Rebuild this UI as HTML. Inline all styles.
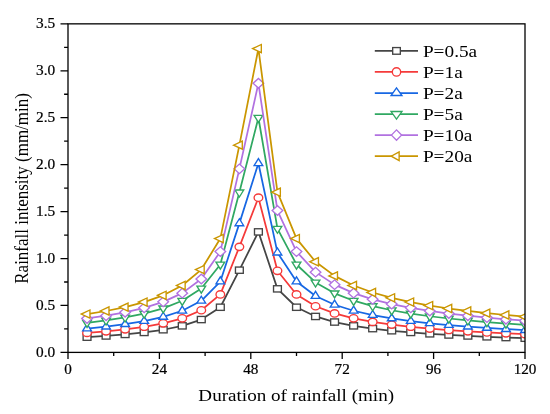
<!DOCTYPE html>
<html><head><meta charset="utf-8"><title>Rainfall intensity</title>
<style>
html,body{margin:0;padding:0;background:#fff;}
body{width:550px;height:414px;overflow:hidden;}
svg{display:block;font-family:"Liberation Serif","Times New Roman",serif;}
</style></head><body>
<svg width="550" height="414" viewBox="0 0 550 414">
<rect width="550" height="414" fill="#fff"/>
<defs><clipPath id="plot"><rect x="68.00" y="23.85" width="457.00" height="328.55"/></clipPath></defs>

<g clip-path="url(#plot)">
<polyline points="87.04,337.21 106.08,335.98 125.12,334.44 144.17,332.45 163.21,329.76 182.25,325.85 201.29,319.55 220.33,307.25 239.38,270.19 258.42,231.88 277.46,288.85 296.50,307.25 315.54,316.45 334.58,322.05 353.62,325.85 372.67,328.63 391.71,330.76 410.75,332.45 429.79,333.84 448.83,334.99 467.88,335.98 486.92,336.82 505.96,337.57 525.00,338.22" fill="none" stroke="#454545" stroke-width="1.75" stroke-linejoin="round"/>
<rect x="83.12" y="334.08" width="7.85" height="6.25" fill="#fff" stroke="#454545" stroke-width="1.35"/>
<rect x="102.16" y="332.85" width="7.85" height="6.25" fill="#fff" stroke="#454545" stroke-width="1.35"/>
<rect x="121.20" y="331.31" width="7.85" height="6.25" fill="#fff" stroke="#454545" stroke-width="1.35"/>
<rect x="140.24" y="329.33" width="7.85" height="6.25" fill="#fff" stroke="#454545" stroke-width="1.35"/>
<rect x="159.28" y="326.63" width="7.85" height="6.25" fill="#fff" stroke="#454545" stroke-width="1.35"/>
<rect x="178.32" y="322.73" width="7.85" height="6.25" fill="#fff" stroke="#454545" stroke-width="1.35"/>
<rect x="197.37" y="316.43" width="7.85" height="6.25" fill="#fff" stroke="#454545" stroke-width="1.35"/>
<rect x="216.41" y="304.12" width="7.85" height="6.25" fill="#fff" stroke="#454545" stroke-width="1.35"/>
<rect x="235.45" y="267.06" width="7.85" height="6.25" fill="#fff" stroke="#454545" stroke-width="1.35"/>
<rect x="254.49" y="228.75" width="7.85" height="6.25" fill="#fff" stroke="#454545" stroke-width="1.35"/>
<rect x="273.53" y="285.73" width="7.85" height="6.25" fill="#fff" stroke="#454545" stroke-width="1.35"/>
<rect x="292.57" y="304.12" width="7.85" height="6.25" fill="#fff" stroke="#454545" stroke-width="1.35"/>
<rect x="311.62" y="313.33" width="7.85" height="6.25" fill="#fff" stroke="#454545" stroke-width="1.35"/>
<rect x="330.66" y="318.92" width="7.85" height="6.25" fill="#fff" stroke="#454545" stroke-width="1.35"/>
<rect x="349.70" y="322.73" width="7.85" height="6.25" fill="#fff" stroke="#454545" stroke-width="1.35"/>
<rect x="368.74" y="325.50" width="7.85" height="6.25" fill="#fff" stroke="#454545" stroke-width="1.35"/>
<rect x="387.78" y="327.63" width="7.85" height="6.25" fill="#fff" stroke="#454545" stroke-width="1.35"/>
<rect x="406.82" y="329.33" width="7.85" height="6.25" fill="#fff" stroke="#454545" stroke-width="1.35"/>
<rect x="425.87" y="330.71" width="7.85" height="6.25" fill="#fff" stroke="#454545" stroke-width="1.35"/>
<rect x="444.91" y="331.87" width="7.85" height="6.25" fill="#fff" stroke="#454545" stroke-width="1.35"/>
<rect x="463.95" y="332.85" width="7.85" height="6.25" fill="#fff" stroke="#454545" stroke-width="1.35"/>
<rect x="482.99" y="333.70" width="7.85" height="6.25" fill="#fff" stroke="#454545" stroke-width="1.35"/>
<rect x="502.03" y="334.44" width="7.85" height="6.25" fill="#fff" stroke="#454545" stroke-width="1.35"/>
<rect x="521.08" y="335.10" width="7.85" height="6.25" fill="#fff" stroke="#454545" stroke-width="1.35"/>
<polyline points="87.04,332.89 106.08,331.31 125.12,329.34 144.17,326.79 163.21,323.33 182.25,318.32 201.29,310.23 220.33,294.43 239.38,246.85 258.42,197.66 277.46,270.82 296.50,294.43 315.54,306.25 334.58,313.43 353.62,318.32 372.67,321.88 391.71,324.62 410.75,326.79 429.79,328.57 448.83,330.05 467.88,331.31 486.92,332.40 505.96,333.35 525.00,334.20" fill="none" stroke="#F53A3A" stroke-width="1.75" stroke-linejoin="round"/>
<ellipse cx="87.04" cy="332.89" rx="4.33" ry="3.65" fill="#fff" stroke="#F53A3A" stroke-width="1.35"/>
<ellipse cx="106.08" cy="331.31" rx="4.33" ry="3.65" fill="#fff" stroke="#F53A3A" stroke-width="1.35"/>
<ellipse cx="125.12" cy="329.34" rx="4.33" ry="3.65" fill="#fff" stroke="#F53A3A" stroke-width="1.35"/>
<ellipse cx="144.17" cy="326.79" rx="4.33" ry="3.65" fill="#fff" stroke="#F53A3A" stroke-width="1.35"/>
<ellipse cx="163.21" cy="323.33" rx="4.33" ry="3.65" fill="#fff" stroke="#F53A3A" stroke-width="1.35"/>
<ellipse cx="182.25" cy="318.32" rx="4.33" ry="3.65" fill="#fff" stroke="#F53A3A" stroke-width="1.35"/>
<ellipse cx="201.29" cy="310.23" rx="4.33" ry="3.65" fill="#fff" stroke="#F53A3A" stroke-width="1.35"/>
<ellipse cx="220.33" cy="294.43" rx="4.33" ry="3.65" fill="#fff" stroke="#F53A3A" stroke-width="1.35"/>
<ellipse cx="239.38" cy="246.85" rx="4.33" ry="3.65" fill="#fff" stroke="#F53A3A" stroke-width="1.35"/>
<ellipse cx="258.42" cy="197.66" rx="4.33" ry="3.65" fill="#fff" stroke="#F53A3A" stroke-width="1.35"/>
<ellipse cx="277.46" cy="270.82" rx="4.33" ry="3.65" fill="#fff" stroke="#F53A3A" stroke-width="1.35"/>
<ellipse cx="296.50" cy="294.43" rx="4.33" ry="3.65" fill="#fff" stroke="#F53A3A" stroke-width="1.35"/>
<ellipse cx="315.54" cy="306.25" rx="4.33" ry="3.65" fill="#fff" stroke="#F53A3A" stroke-width="1.35"/>
<ellipse cx="334.58" cy="313.43" rx="4.33" ry="3.65" fill="#fff" stroke="#F53A3A" stroke-width="1.35"/>
<ellipse cx="353.62" cy="318.32" rx="4.33" ry="3.65" fill="#fff" stroke="#F53A3A" stroke-width="1.35"/>
<ellipse cx="372.67" cy="321.88" rx="4.33" ry="3.65" fill="#fff" stroke="#F53A3A" stroke-width="1.35"/>
<ellipse cx="391.71" cy="324.62" rx="4.33" ry="3.65" fill="#fff" stroke="#F53A3A" stroke-width="1.35"/>
<ellipse cx="410.75" cy="326.79" rx="4.33" ry="3.65" fill="#fff" stroke="#F53A3A" stroke-width="1.35"/>
<ellipse cx="429.79" cy="328.57" rx="4.33" ry="3.65" fill="#fff" stroke="#F53A3A" stroke-width="1.35"/>
<ellipse cx="448.83" cy="330.05" rx="4.33" ry="3.65" fill="#fff" stroke="#F53A3A" stroke-width="1.35"/>
<ellipse cx="467.88" cy="331.31" rx="4.33" ry="3.65" fill="#fff" stroke="#F53A3A" stroke-width="1.35"/>
<ellipse cx="486.92" cy="332.40" rx="4.33" ry="3.65" fill="#fff" stroke="#F53A3A" stroke-width="1.35"/>
<ellipse cx="505.96" cy="333.35" rx="4.33" ry="3.65" fill="#fff" stroke="#F53A3A" stroke-width="1.35"/>
<ellipse cx="525.00" cy="334.20" rx="4.33" ry="3.65" fill="#fff" stroke="#F53A3A" stroke-width="1.35"/>
<polyline points="87.04,328.55 106.08,326.62 125.12,324.21 144.17,321.09 163.21,316.86 182.25,310.74 201.29,300.84 220.33,281.53 239.38,223.37 258.42,163.23 277.46,252.66 296.50,281.53 315.54,295.98 334.58,304.77 353.62,310.74 372.67,315.09 391.71,318.43 410.75,321.09 429.79,323.26 448.83,325.08 467.88,326.62 486.92,327.95 505.96,329.12 525.00,330.14" fill="none" stroke="#1767E3" stroke-width="1.75" stroke-linejoin="round"/>
<polygon points="82.69,330.89 91.39,330.89 87.04,323.89" fill="#fff" stroke="#1767E3" stroke-width="1.35" stroke-linejoin="miter"/>
<polygon points="101.73,328.95 110.43,328.95 106.08,321.95" fill="#fff" stroke="#1767E3" stroke-width="1.35" stroke-linejoin="miter"/>
<polygon points="120.78,326.54 129.47,326.54 125.12,319.54" fill="#fff" stroke="#1767E3" stroke-width="1.35" stroke-linejoin="miter"/>
<polygon points="139.82,323.42 148.52,323.42 144.17,316.42" fill="#fff" stroke="#1767E3" stroke-width="1.35" stroke-linejoin="miter"/>
<polygon points="158.86,319.20 167.56,319.20 163.21,312.20" fill="#fff" stroke="#1767E3" stroke-width="1.35" stroke-linejoin="miter"/>
<polygon points="177.90,313.07 186.60,313.07 182.25,306.07" fill="#fff" stroke="#1767E3" stroke-width="1.35" stroke-linejoin="miter"/>
<polygon points="196.94,303.17 205.64,303.17 201.29,296.17" fill="#fff" stroke="#1767E3" stroke-width="1.35" stroke-linejoin="miter"/>
<polygon points="215.98,283.87 224.68,283.87 220.33,276.87" fill="#fff" stroke="#1767E3" stroke-width="1.35" stroke-linejoin="miter"/>
<polygon points="235.03,225.70 243.72,225.70 239.38,218.70" fill="#fff" stroke="#1767E3" stroke-width="1.35" stroke-linejoin="miter"/>
<polygon points="254.07,165.57 262.77,165.57 258.42,158.57" fill="#fff" stroke="#1767E3" stroke-width="1.35" stroke-linejoin="miter"/>
<polygon points="273.11,255.00 281.81,255.00 277.46,248.00" fill="#fff" stroke="#1767E3" stroke-width="1.35" stroke-linejoin="miter"/>
<polygon points="292.15,283.87 300.85,283.87 296.50,276.87" fill="#fff" stroke="#1767E3" stroke-width="1.35" stroke-linejoin="miter"/>
<polygon points="311.19,298.31 319.89,298.31 315.54,291.31" fill="#fff" stroke="#1767E3" stroke-width="1.35" stroke-linejoin="miter"/>
<polygon points="330.23,307.10 338.93,307.10 334.58,300.10" fill="#fff" stroke="#1767E3" stroke-width="1.35" stroke-linejoin="miter"/>
<polygon points="349.27,313.07 357.98,313.07 353.62,306.07" fill="#fff" stroke="#1767E3" stroke-width="1.35" stroke-linejoin="miter"/>
<polygon points="368.32,317.43 377.02,317.43 372.67,310.43" fill="#fff" stroke="#1767E3" stroke-width="1.35" stroke-linejoin="miter"/>
<polygon points="387.36,320.77 396.06,320.77 391.71,313.77" fill="#fff" stroke="#1767E3" stroke-width="1.35" stroke-linejoin="miter"/>
<polygon points="406.40,323.42 415.10,323.42 410.75,316.42" fill="#fff" stroke="#1767E3" stroke-width="1.35" stroke-linejoin="miter"/>
<polygon points="425.44,325.60 434.14,325.60 429.79,318.60" fill="#fff" stroke="#1767E3" stroke-width="1.35" stroke-linejoin="miter"/>
<polygon points="444.48,327.41 453.18,327.41 448.83,320.41" fill="#fff" stroke="#1767E3" stroke-width="1.35" stroke-linejoin="miter"/>
<polygon points="463.52,328.95 472.23,328.95 467.88,321.95" fill="#fff" stroke="#1767E3" stroke-width="1.35" stroke-linejoin="miter"/>
<polygon points="482.57,330.29 491.27,330.29 486.92,323.29" fill="#fff" stroke="#1767E3" stroke-width="1.35" stroke-linejoin="miter"/>
<polygon points="501.61,331.45 510.31,331.45 505.96,324.45" fill="#fff" stroke="#1767E3" stroke-width="1.35" stroke-linejoin="miter"/>
<polygon points="520.65,332.48 529.35,332.48 525.00,325.48" fill="#fff" stroke="#1767E3" stroke-width="1.35" stroke-linejoin="miter"/>
<polyline points="87.04,322.82 106.08,320.42 125.12,317.43 144.17,313.56 163.21,308.32 182.25,300.71 201.29,288.44 220.33,264.49 239.38,192.32 258.42,117.73 277.46,228.67 296.50,264.49 315.54,282.41 334.58,293.31 353.62,300.71 372.67,306.12 391.71,310.26 410.75,313.56 429.79,316.25 448.83,318.50 467.88,320.42 486.92,322.07 505.96,323.52 525.00,324.79" fill="none" stroke="#30A862" stroke-width="1.75" stroke-linejoin="round"/>
<polygon points="82.69,320.48 91.39,320.48 87.04,327.48" fill="#fff" stroke="#30A862" stroke-width="1.35" stroke-linejoin="miter"/>
<polygon points="101.73,318.09 110.43,318.09 106.08,325.09" fill="#fff" stroke="#30A862" stroke-width="1.35" stroke-linejoin="miter"/>
<polygon points="120.78,315.09 129.47,315.09 125.12,322.09" fill="#fff" stroke="#30A862" stroke-width="1.35" stroke-linejoin="miter"/>
<polygon points="139.82,311.22 148.52,311.22 144.17,318.22" fill="#fff" stroke="#30A862" stroke-width="1.35" stroke-linejoin="miter"/>
<polygon points="158.86,305.98 167.56,305.98 163.21,312.98" fill="#fff" stroke="#30A862" stroke-width="1.35" stroke-linejoin="miter"/>
<polygon points="177.90,298.38 186.60,298.38 182.25,305.38" fill="#fff" stroke="#30A862" stroke-width="1.35" stroke-linejoin="miter"/>
<polygon points="196.94,286.10 205.64,286.10 201.29,293.10" fill="#fff" stroke="#30A862" stroke-width="1.35" stroke-linejoin="miter"/>
<polygon points="215.98,262.15 224.68,262.15 220.33,269.15" fill="#fff" stroke="#30A862" stroke-width="1.35" stroke-linejoin="miter"/>
<polygon points="235.03,189.99 243.72,189.99 239.38,196.99" fill="#fff" stroke="#30A862" stroke-width="1.35" stroke-linejoin="miter"/>
<polygon points="254.07,115.39 262.77,115.39 258.42,122.39" fill="#fff" stroke="#30A862" stroke-width="1.35" stroke-linejoin="miter"/>
<polygon points="273.11,226.34 281.81,226.34 277.46,233.34" fill="#fff" stroke="#30A862" stroke-width="1.35" stroke-linejoin="miter"/>
<polygon points="292.15,262.15 300.85,262.15 296.50,269.15" fill="#fff" stroke="#30A862" stroke-width="1.35" stroke-linejoin="miter"/>
<polygon points="311.19,280.07 319.89,280.07 315.54,287.07" fill="#fff" stroke="#30A862" stroke-width="1.35" stroke-linejoin="miter"/>
<polygon points="330.23,290.97 338.93,290.97 334.58,297.97" fill="#fff" stroke="#30A862" stroke-width="1.35" stroke-linejoin="miter"/>
<polygon points="349.27,298.38 357.98,298.38 353.62,305.38" fill="#fff" stroke="#30A862" stroke-width="1.35" stroke-linejoin="miter"/>
<polygon points="368.32,303.78 377.02,303.78 372.67,310.78" fill="#fff" stroke="#30A862" stroke-width="1.35" stroke-linejoin="miter"/>
<polygon points="387.36,307.93 396.06,307.93 391.71,314.93" fill="#fff" stroke="#30A862" stroke-width="1.35" stroke-linejoin="miter"/>
<polygon points="406.40,311.22 415.10,311.22 410.75,318.22" fill="#fff" stroke="#30A862" stroke-width="1.35" stroke-linejoin="miter"/>
<polygon points="425.44,313.92 434.14,313.92 429.79,320.92" fill="#fff" stroke="#30A862" stroke-width="1.35" stroke-linejoin="miter"/>
<polygon points="444.48,316.17 453.18,316.17 448.83,323.17" fill="#fff" stroke="#30A862" stroke-width="1.35" stroke-linejoin="miter"/>
<polygon points="463.52,318.09 472.23,318.09 467.88,325.09" fill="#fff" stroke="#30A862" stroke-width="1.35" stroke-linejoin="miter"/>
<polygon points="482.57,319.74 491.27,319.74 486.92,326.74" fill="#fff" stroke="#30A862" stroke-width="1.35" stroke-linejoin="miter"/>
<polygon points="501.61,321.18 510.31,321.18 505.96,328.18" fill="#fff" stroke="#30A862" stroke-width="1.35" stroke-linejoin="miter"/>
<polygon points="520.65,322.46 529.35,322.46 525.00,329.46" fill="#fff" stroke="#30A862" stroke-width="1.35" stroke-linejoin="miter"/>
<polyline points="87.04,318.48 106.08,315.73 125.12,312.30 144.17,307.86 163.21,301.85 182.25,293.13 201.29,279.06 220.33,251.59 239.38,168.85 258.42,83.31 277.46,210.53 296.50,251.59 315.54,272.14 334.58,284.64 353.62,293.13 372.67,299.33 391.71,304.08 410.75,307.86 429.79,310.95 448.83,313.53 467.88,315.73 486.92,317.62 505.96,319.28 525.00,320.74" fill="none" stroke="#B171E0" stroke-width="1.75" stroke-linejoin="round"/>
<polygon points="81.74,318.48 87.04,313.68 92.34,318.48 87.04,323.28" fill="#fff" stroke="#B171E0" stroke-width="1.35" stroke-linejoin="miter"/>
<polygon points="100.78,315.73 106.08,310.93 111.38,315.73 106.08,320.53" fill="#fff" stroke="#B171E0" stroke-width="1.35" stroke-linejoin="miter"/>
<polygon points="119.83,312.30 125.12,307.50 130.43,312.30 125.12,317.10" fill="#fff" stroke="#B171E0" stroke-width="1.35" stroke-linejoin="miter"/>
<polygon points="138.87,307.86 144.17,303.06 149.47,307.86 144.17,312.66" fill="#fff" stroke="#B171E0" stroke-width="1.35" stroke-linejoin="miter"/>
<polygon points="157.91,301.85 163.21,297.05 168.51,301.85 163.21,306.65" fill="#fff" stroke="#B171E0" stroke-width="1.35" stroke-linejoin="miter"/>
<polygon points="176.95,293.13 182.25,288.33 187.55,293.13 182.25,297.93" fill="#fff" stroke="#B171E0" stroke-width="1.35" stroke-linejoin="miter"/>
<polygon points="195.99,279.06 201.29,274.26 206.59,279.06 201.29,283.86" fill="#fff" stroke="#B171E0" stroke-width="1.35" stroke-linejoin="miter"/>
<polygon points="215.03,251.59 220.33,246.79 225.63,251.59 220.33,256.39" fill="#fff" stroke="#B171E0" stroke-width="1.35" stroke-linejoin="miter"/>
<polygon points="234.07,168.85 239.38,164.05 244.68,168.85 239.38,173.65" fill="#fff" stroke="#B171E0" stroke-width="1.35" stroke-linejoin="miter"/>
<polygon points="253.12,83.31 258.42,78.51 263.72,83.31 258.42,88.11" fill="#fff" stroke="#B171E0" stroke-width="1.35" stroke-linejoin="miter"/>
<polygon points="272.16,210.53 277.46,205.73 282.76,210.53 277.46,215.33" fill="#fff" stroke="#B171E0" stroke-width="1.35" stroke-linejoin="miter"/>
<polygon points="291.20,251.59 296.50,246.79 301.80,251.59 296.50,256.39" fill="#fff" stroke="#B171E0" stroke-width="1.35" stroke-linejoin="miter"/>
<polygon points="310.24,272.14 315.54,267.34 320.84,272.14 315.54,276.94" fill="#fff" stroke="#B171E0" stroke-width="1.35" stroke-linejoin="miter"/>
<polygon points="329.28,284.64 334.58,279.84 339.88,284.64 334.58,289.44" fill="#fff" stroke="#B171E0" stroke-width="1.35" stroke-linejoin="miter"/>
<polygon points="348.32,293.13 353.62,288.33 358.93,293.13 353.62,297.93" fill="#fff" stroke="#B171E0" stroke-width="1.35" stroke-linejoin="miter"/>
<polygon points="367.37,299.33 372.67,294.53 377.97,299.33 372.67,304.13" fill="#fff" stroke="#B171E0" stroke-width="1.35" stroke-linejoin="miter"/>
<polygon points="386.41,304.08 391.71,299.28 397.01,304.08 391.71,308.88" fill="#fff" stroke="#B171E0" stroke-width="1.35" stroke-linejoin="miter"/>
<polygon points="405.45,307.86 410.75,303.06 416.05,307.86 410.75,312.66" fill="#fff" stroke="#B171E0" stroke-width="1.35" stroke-linejoin="miter"/>
<polygon points="424.49,310.95 429.79,306.15 435.09,310.95 429.79,315.75" fill="#fff" stroke="#B171E0" stroke-width="1.35" stroke-linejoin="miter"/>
<polygon points="443.53,313.53 448.83,308.73 454.13,313.53 448.83,318.33" fill="#fff" stroke="#B171E0" stroke-width="1.35" stroke-linejoin="miter"/>
<polygon points="462.57,315.73 467.88,310.93 473.18,315.73 467.88,320.53" fill="#fff" stroke="#B171E0" stroke-width="1.35" stroke-linejoin="miter"/>
<polygon points="481.62,317.62 486.92,312.82 492.22,317.62 486.92,322.42" fill="#fff" stroke="#B171E0" stroke-width="1.35" stroke-linejoin="miter"/>
<polygon points="500.66,319.28 505.96,314.48 511.26,319.28 505.96,324.08" fill="#fff" stroke="#B171E0" stroke-width="1.35" stroke-linejoin="miter"/>
<polygon points="519.70,320.74 525.00,315.94 530.30,320.74 525.00,325.54" fill="#fff" stroke="#B171E0" stroke-width="1.35" stroke-linejoin="miter"/>
<polyline points="87.04,314.10 106.08,310.99 125.12,307.12 144.17,302.11 163.21,295.32 182.25,285.47 201.29,269.58 220.33,238.57 239.38,145.13 258.42,48.54 277.46,192.19 296.50,238.57 315.54,261.77 334.58,275.88 353.62,285.47 372.67,292.47 391.71,297.84 410.75,302.11 429.79,305.60 448.83,308.51 467.88,310.99 486.92,313.13 505.96,315.00 525.00,316.65" fill="none" stroke="#CA9600" stroke-width="1.75" stroke-linejoin="round"/>
<polygon points="89.94,310.00 89.94,318.20 81.24,314.10" fill="#fff" stroke="#CA9600" stroke-width="1.35" stroke-linejoin="miter"/>
<polygon points="108.98,306.89 108.98,315.09 100.28,310.99" fill="#fff" stroke="#CA9600" stroke-width="1.35" stroke-linejoin="miter"/>
<polygon points="128.03,303.02 128.03,311.22 119.33,307.12" fill="#fff" stroke="#CA9600" stroke-width="1.35" stroke-linejoin="miter"/>
<polygon points="147.07,298.01 147.07,306.21 138.37,302.11" fill="#fff" stroke="#CA9600" stroke-width="1.35" stroke-linejoin="miter"/>
<polygon points="166.11,291.22 166.11,299.42 157.41,295.32" fill="#fff" stroke="#CA9600" stroke-width="1.35" stroke-linejoin="miter"/>
<polygon points="185.15,281.37 185.15,289.57 176.45,285.47" fill="#fff" stroke="#CA9600" stroke-width="1.35" stroke-linejoin="miter"/>
<polygon points="204.19,265.48 204.19,273.68 195.49,269.58" fill="#fff" stroke="#CA9600" stroke-width="1.35" stroke-linejoin="miter"/>
<polygon points="223.23,234.47 223.23,242.67 214.53,238.57" fill="#fff" stroke="#CA9600" stroke-width="1.35" stroke-linejoin="miter"/>
<polygon points="242.28,141.03 242.28,149.23 233.57,145.13" fill="#fff" stroke="#CA9600" stroke-width="1.35" stroke-linejoin="miter"/>
<polygon points="261.32,44.44 261.32,52.64 252.62,48.54" fill="#fff" stroke="#CA9600" stroke-width="1.35" stroke-linejoin="miter"/>
<polygon points="280.36,188.09 280.36,196.29 271.66,192.19" fill="#fff" stroke="#CA9600" stroke-width="1.35" stroke-linejoin="miter"/>
<polygon points="299.40,234.47 299.40,242.67 290.70,238.57" fill="#fff" stroke="#CA9600" stroke-width="1.35" stroke-linejoin="miter"/>
<polygon points="318.44,257.67 318.44,265.87 309.74,261.77" fill="#fff" stroke="#CA9600" stroke-width="1.35" stroke-linejoin="miter"/>
<polygon points="337.48,271.78 337.48,279.98 328.78,275.88" fill="#fff" stroke="#CA9600" stroke-width="1.35" stroke-linejoin="miter"/>
<polygon points="356.52,281.37 356.52,289.57 347.82,285.47" fill="#fff" stroke="#CA9600" stroke-width="1.35" stroke-linejoin="miter"/>
<polygon points="375.57,288.37 375.57,296.57 366.87,292.47" fill="#fff" stroke="#CA9600" stroke-width="1.35" stroke-linejoin="miter"/>
<polygon points="394.61,293.74 394.61,301.94 385.91,297.84" fill="#fff" stroke="#CA9600" stroke-width="1.35" stroke-linejoin="miter"/>
<polygon points="413.65,298.01 413.65,306.21 404.95,302.11" fill="#fff" stroke="#CA9600" stroke-width="1.35" stroke-linejoin="miter"/>
<polygon points="432.69,301.50 432.69,309.70 423.99,305.60" fill="#fff" stroke="#CA9600" stroke-width="1.35" stroke-linejoin="miter"/>
<polygon points="451.73,304.41 451.73,312.61 443.03,308.51" fill="#fff" stroke="#CA9600" stroke-width="1.35" stroke-linejoin="miter"/>
<polygon points="470.77,306.89 470.77,315.09 462.07,310.99" fill="#fff" stroke="#CA9600" stroke-width="1.35" stroke-linejoin="miter"/>
<polygon points="489.82,309.03 489.82,317.23 481.12,313.13" fill="#fff" stroke="#CA9600" stroke-width="1.35" stroke-linejoin="miter"/>
<polygon points="508.86,310.90 508.86,319.10 500.16,315.00" fill="#fff" stroke="#CA9600" stroke-width="1.35" stroke-linejoin="miter"/>
<polygon points="527.90,312.55 527.90,320.75 519.20,316.65" fill="#fff" stroke="#CA9600" stroke-width="1.35" stroke-linejoin="miter"/>
</g>
<rect x="68.0" y="23.85" width="457.0" height="328.54999999999995" fill="none" stroke="#000" stroke-width="1.3"/>
<path d="M68.00,352.4v6.5 M113.70,352.4v3.5 M159.40,352.4v6.5 M205.10,352.4v3.5 M250.80,352.4v6.5 M296.50,352.4v3.5 M342.20,352.4v6.5 M387.90,352.4v3.5 M433.60,352.4v6.5 M479.30,352.4v3.5 M525.00,352.4v6.5 M68.0,352.40h-7.5 M68.0,328.93h-3.9 M68.0,305.46h-7.5 M68.0,282.00h-3.9 M68.0,258.53h-7.5 M68.0,235.06h-3.9 M68.0,211.59h-7.5 M68.0,188.13h-3.9 M68.0,164.66h-7.5 M68.0,141.19h-3.9 M68.0,117.72h-7.5 M68.0,94.25h-3.9 M68.0,70.79h-7.5 M68.0,47.32h-3.9 M68.0,23.85h-7.5" stroke="#000" stroke-width="1.3" fill="none"/>
<text transform="translate(68.00,373.90) scale(1.04,1)" font-size="14.6" text-anchor="middle" fill="#000" stroke="#000" stroke-width="0.22">0</text>
<text transform="translate(159.40,373.90) scale(1.04,1)" font-size="14.6" text-anchor="middle" fill="#000" stroke="#000" stroke-width="0.22">24</text>
<text transform="translate(250.80,373.90) scale(1.04,1)" font-size="14.6" text-anchor="middle" fill="#000" stroke="#000" stroke-width="0.22">48</text>
<text transform="translate(342.20,373.90) scale(1.04,1)" font-size="14.6" text-anchor="middle" fill="#000" stroke="#000" stroke-width="0.22">72</text>
<text transform="translate(433.60,373.90) scale(1.04,1)" font-size="14.6" text-anchor="middle" fill="#000" stroke="#000" stroke-width="0.22">96</text>
<text transform="translate(525.00,373.90) scale(1.04,1)" font-size="14.6" text-anchor="middle" fill="#000" stroke="#000" stroke-width="0.22">120</text>
<text transform="translate(55.20,356.70) scale(1.05,1)" font-size="14.6" text-anchor="end" fill="#000" stroke="#000" stroke-width="0.22">0.0</text>
<text transform="translate(55.20,309.76) scale(1.05,1)" font-size="14.6" text-anchor="end" fill="#000" stroke="#000" stroke-width="0.22">0.5</text>
<text transform="translate(55.20,262.83) scale(1.05,1)" font-size="14.6" text-anchor="end" fill="#000" stroke="#000" stroke-width="0.22">1.0</text>
<text transform="translate(55.20,215.89) scale(1.05,1)" font-size="14.6" text-anchor="end" fill="#000" stroke="#000" stroke-width="0.22">1.5</text>
<text transform="translate(55.20,168.96) scale(1.05,1)" font-size="14.6" text-anchor="end" fill="#000" stroke="#000" stroke-width="0.22">2.0</text>
<text transform="translate(55.20,122.02) scale(1.05,1)" font-size="14.6" text-anchor="end" fill="#000" stroke="#000" stroke-width="0.22">2.5</text>
<text transform="translate(55.20,75.09) scale(1.05,1)" font-size="14.6" text-anchor="end" fill="#000" stroke="#000" stroke-width="0.22">3.0</text>
<text transform="translate(55.20,28.15) scale(1.05,1)" font-size="14.6" text-anchor="end" fill="#000" stroke="#000" stroke-width="0.22">3.5</text>
<text transform="translate(296.20,400.70) scale(1.092,1)" font-size="17.5" text-anchor="middle" fill="#000">Duration of rainfall (min)</text>
<text transform="translate(28.0,188.4) rotate(-90) scale(1,1.10)" font-size="17" text-anchor="middle" fill="#000">Rainfall intensity (mm/min)</text>
<line x1="374.8" y1="50.90" x2="418" y2="50.90" stroke="#454545" stroke-width="1.75"/>
<rect x="392.68" y="47.57" width="7.65" height="6.65" fill="#fff" stroke="#454545" stroke-width="1.35"/>
<text transform="translate(422.9,56.80) scale(1.155,1)" font-size="16.7" fill="#000">P=0.5a</text>
<line x1="374.8" y1="71.95" x2="418" y2="71.95" stroke="#F53A3A" stroke-width="1.75"/>
<ellipse cx="396.50" cy="71.95" rx="4.18" ry="4.18" fill="#fff" stroke="#F53A3A" stroke-width="1.35"/>
<text transform="translate(422.9,77.85) scale(1.155,1)" font-size="16.7" fill="#000">P=1a</text>
<line x1="374.8" y1="93.00" x2="418" y2="93.00" stroke="#1767E3" stroke-width="1.75"/>
<polygon points="391.05,95.53 401.95,95.53 396.50,87.93" fill="#fff" stroke="#1767E3" stroke-width="1.35" stroke-linejoin="miter"/>
<text transform="translate(422.9,98.90) scale(1.155,1)" font-size="16.7" fill="#000">P=2a</text>
<line x1="374.8" y1="114.05" x2="418" y2="114.05" stroke="#30A862" stroke-width="1.75"/>
<polygon points="391.05,111.52 401.95,111.52 396.50,119.12" fill="#fff" stroke="#30A862" stroke-width="1.35" stroke-linejoin="miter"/>
<text transform="translate(422.9,119.95) scale(1.155,1)" font-size="16.7" fill="#000">P=5a</text>
<line x1="374.8" y1="135.10" x2="418" y2="135.10" stroke="#B171E0" stroke-width="1.75"/>
<polygon points="391.40,135.10 396.50,129.90 401.60,135.10 396.50,140.30" fill="#fff" stroke="#B171E0" stroke-width="1.35" stroke-linejoin="miter"/>
<text transform="translate(422.9,141.00) scale(1.155,1)" font-size="16.7" fill="#000">P=10a</text>
<line x1="374.8" y1="156.15" x2="418" y2="156.15" stroke="#CA9600" stroke-width="1.75"/>
<polygon points="399.13,151.80 399.13,160.50 391.23,156.15" fill="#fff" stroke="#CA9600" stroke-width="1.35" stroke-linejoin="miter"/>
<text transform="translate(422.9,162.05) scale(1.155,1)" font-size="16.7" fill="#000">P=20a</text>
</svg></body></html>
